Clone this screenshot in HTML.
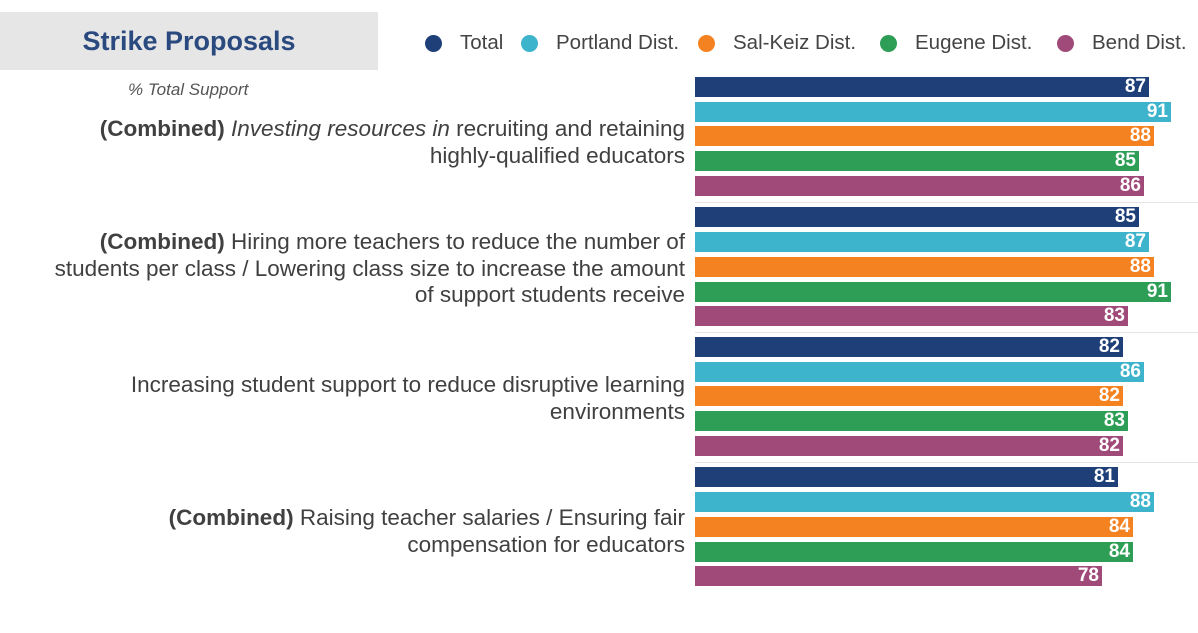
<!DOCTYPE html>
<html><head><meta charset="utf-8"><style>
body{margin:0;width:1198px;height:633px;background:#fff;position:relative;overflow:hidden;font-family:"Liberation Sans",Arial,sans-serif;}
.t{position:absolute;}
.lbl{position:absolute;right:513px;text-align:right;font-size:22.5px;line-height:26.5px;color:#404040;white-space:nowrap;}
.bar{position:absolute;left:695px;height:20px;}
.bar span{position:absolute;right:3px;top:-1px;color:#fff;font-weight:bold;font-size:19px;line-height:22px;}
.sep{position:absolute;left:695px;width:503px;height:1px;background:#e4e4e4;}
.leg{position:absolute;top:31px;font-size:20.5px;color:#444;line-height:24px;}
.dot{position:absolute;top:35px;width:17px;height:17px;border-radius:50%;}
</style></head><body>
<div class="t" style="left:0;top:12px;width:378px;height:58px;background:#e6e6e6;"></div>
<div class="t" style="left:0;top:12px;width:378px;height:58px;line-height:58px;text-align:center;font-weight:bold;font-size:27px;color:#2a4a7f;">Strike Proposals</div>
<div class="t" style="left:128px;top:80px;font-size:17px;font-style:italic;color:#555;">% Total Support</div>

<div class="dot" style="left:425px;background:#1f3f78"></div><div class="leg" style="left:460px">Total</div>
<div class="dot" style="left:521px;background:#3db3cc"></div><div class="leg" style="left:556px">Portland Dist.</div>
<div class="dot" style="left:698px;background:#f58220"></div><div class="leg" style="left:733px">Sal-Keiz Dist.</div>
<div class="dot" style="left:880px;background:#2e9e57"></div><div class="leg" style="left:915px">Eugene Dist.</div>
<div class="dot" style="left:1057px;background:#a04a7a"></div><div class="leg" style="left:1092px">Bend Dist.</div>

<div class="lbl" style="top:116px"><b>(Combined)</b> <i>Investing resources in</i> recruiting and retaining<br>highly-qualified educators</div>
<div class="lbl" style="top:229px"><b>(Combined)</b> Hiring more teachers to reduce the number of<br>students per class / Lowering class size to increase the amount<br>of support students receive</div>
<div class="lbl" style="top:372px">Increasing student support to reduce disruptive learning<br>environments</div>
<div class="lbl" style="top:505px"><b>(Combined)</b> Raising teacher salaries / Ensuring fair<br>compensation for educators</div>

<div class="sep" style="top:202px"></div>
<div class="sep" style="top:332px"></div>
<div class="sep" style="top:462px"></div>

<div class="bar" style="top:77px;width:454px;background:#1f3f78"><span>87</span></div>
<div class="bar" style="top:102px;width:476px;background:#3db3cc"><span>91</span></div>
<div class="bar" style="top:126px;width:459px;background:#f58220"><span>88</span></div>
<div class="bar" style="top:151px;width:444px;background:#2e9e57"><span>85</span></div>
<div class="bar" style="top:176px;width:449px;background:#a04a7a"><span>86</span></div>

<div class="bar" style="top:207px;width:444px;background:#1f3f78"><span>85</span></div>
<div class="bar" style="top:232px;width:454px;background:#3db3cc"><span>87</span></div>
<div class="bar" style="top:257px;width:459px;background:#f58220"><span>88</span></div>
<div class="bar" style="top:282px;width:476px;background:#2e9e57"><span>91</span></div>
<div class="bar" style="top:306px;width:433px;background:#a04a7a"><span>83</span></div>

<div class="bar" style="top:337px;width:428px;background:#1f3f78"><span>82</span></div>
<div class="bar" style="top:362px;width:449px;background:#3db3cc"><span>86</span></div>
<div class="bar" style="top:386px;width:428px;background:#f58220"><span>82</span></div>
<div class="bar" style="top:411px;width:433px;background:#2e9e57"><span>83</span></div>
<div class="bar" style="top:436px;width:428px;background:#a04a7a"><span>82</span></div>

<div class="bar" style="top:467px;width:423px;background:#1f3f78"><span>81</span></div>
<div class="bar" style="top:492px;width:459px;background:#3db3cc"><span>88</span></div>
<div class="bar" style="top:517px;width:438px;background:#f58220"><span>84</span></div>
<div class="bar" style="top:542px;width:438px;background:#2e9e57"><span>84</span></div>
<div class="bar" style="top:566px;width:407px;background:#a04a7a"><span>78</span></div>
</body></html>
